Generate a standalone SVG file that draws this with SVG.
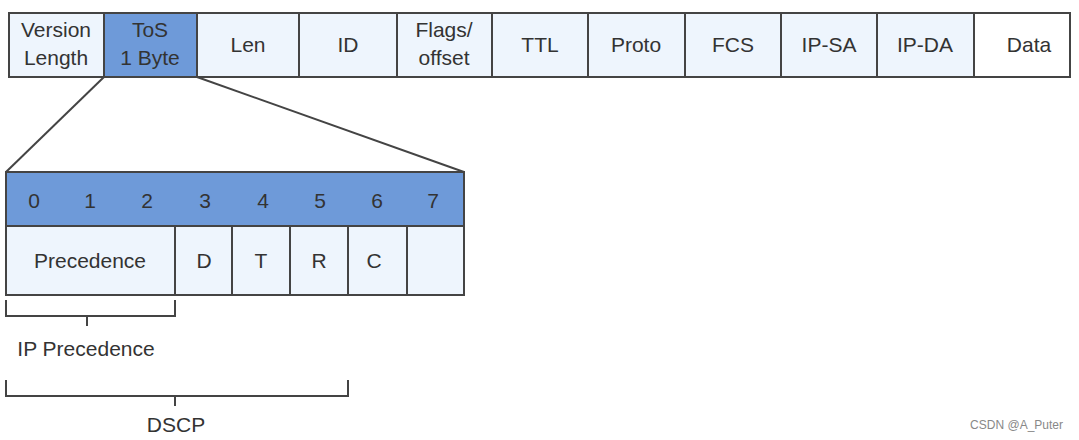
<svg xmlns="http://www.w3.org/2000/svg" width="1079" height="440" viewBox="0 0 1079 440">
<style>
text{font-family:"Liberation Sans",Arial,sans-serif;fill:#333;text-anchor:middle}
.c{fill:#eef5fd;stroke:#444;stroke-width:2}
.b{fill:#6e9ad9;stroke:#444;stroke-width:2}
.w{fill:#fff;stroke:#444;stroke-width:2}
.t{font-size:21px}
.l{fill:none;stroke:#444;stroke-width:2}
</style>
<rect width="1079" height="440" fill="#fff"/>
<g id="header">
<g id="version"><rect class="c" x="9" y="13" width="95" height="64"/><text class="t" x="56" y="37">Version</text><text class="t" x="56" y="65">Length</text></g>
<g id="tos"><rect class="b" x="104" y="13" width="93" height="64"/><text class="t" x="150" y="37">ToS</text><text class="t" x="150" y="65">1 Byte</text></g>
<g id="len"><rect class="c" x="197" y="13" width="102" height="64"/><text class="t" x="248" y="52">Len</text></g>
<g id="idf"><rect class="c" x="299" y="13" width="98" height="64"/><text class="t" x="348" y="52">ID</text></g>
<g id="flags"><rect class="c" x="397" y="13" width="95" height="64"/><text class="t" x="444" y="37">Flags/</text><text class="t" x="444" y="65">offset</text></g>
<g id="ttl"><rect class="c" x="492" y="13" width="96" height="64"/><text class="t" x="540" y="52">TTL</text></g>
<g id="proto"><rect class="c" x="588" y="13" width="97" height="64"/><text class="t" x="636" y="52">Proto</text></g>
<g id="fcs"><rect class="c" x="685" y="13" width="96" height="64"/><text class="t" x="733" y="52">FCS</text></g>
<g id="ipsa"><rect class="c" x="781" y="13" width="96" height="64"/><text class="t" x="829" y="52">IP-SA</text></g>
<g id="ipda"><rect class="c" x="877" y="13" width="97" height="64"/><text class="t" x="925" y="52">IP-DA</text></g>
<g id="data"><rect class="w" x="974" y="13" width="96" height="64"/><text class="t" x="1029" y="52">Data</text></g>
</g>
<g id="connectors">
<line class="l" x1="104" y1="77" x2="6" y2="172"/>
<line class="l" x1="197" y1="77" x2="464" y2="172"/>
<path class="l" d="M6 300V316H175V300M87 316V326"/>
<path class="l" d="M6 380V396H348V380M175 396V406"/>
</g>
<g id="tosbits">
<rect class="b" x="6" y="172" width="458" height="54"/>
<text class="t" x="34" y="208">0</text><text class="t" x="90" y="208">1</text><text class="t" x="147" y="208">2</text><text class="t" x="205" y="208">3</text><text class="t" x="263" y="208">4</text><text class="t" x="320" y="208">5</text><text class="t" x="377" y="208">6</text><text class="t" x="433" y="208">7</text>
<g id="prec"><rect class="c" x="6" y="226" width="169" height="69"/><text class="t" x="90" y="268">Precedence</text></g>
<g id="d"><rect class="c" x="175" y="226" width="57" height="69"/><text class="t" x="204" y="268">D</text></g>
<g id="tbit"><rect class="c" x="232" y="226" width="58" height="69"/><text class="t" x="261" y="268">T</text></g>
<g id="r"><rect class="c" x="290" y="226" width="58" height="69"/><text class="t" x="319" y="268">R</text></g>
<g id="cbit"><rect class="c" x="348" y="226" width="59" height="69"/><text class="t" x="374" y="268">C</text></g>
<g id="blank"><rect class="c" x="407" y="226" width="57" height="69"/></g>
</g>
<text class="t" x="86" y="356">IP Precedence</text>
<text class="t" x="176" y="432">DSCP</text>
<text x="1063" y="429" style="font-size:12px;fill:#888;text-anchor:end">CSDN @A_Puter</text>
</svg>
